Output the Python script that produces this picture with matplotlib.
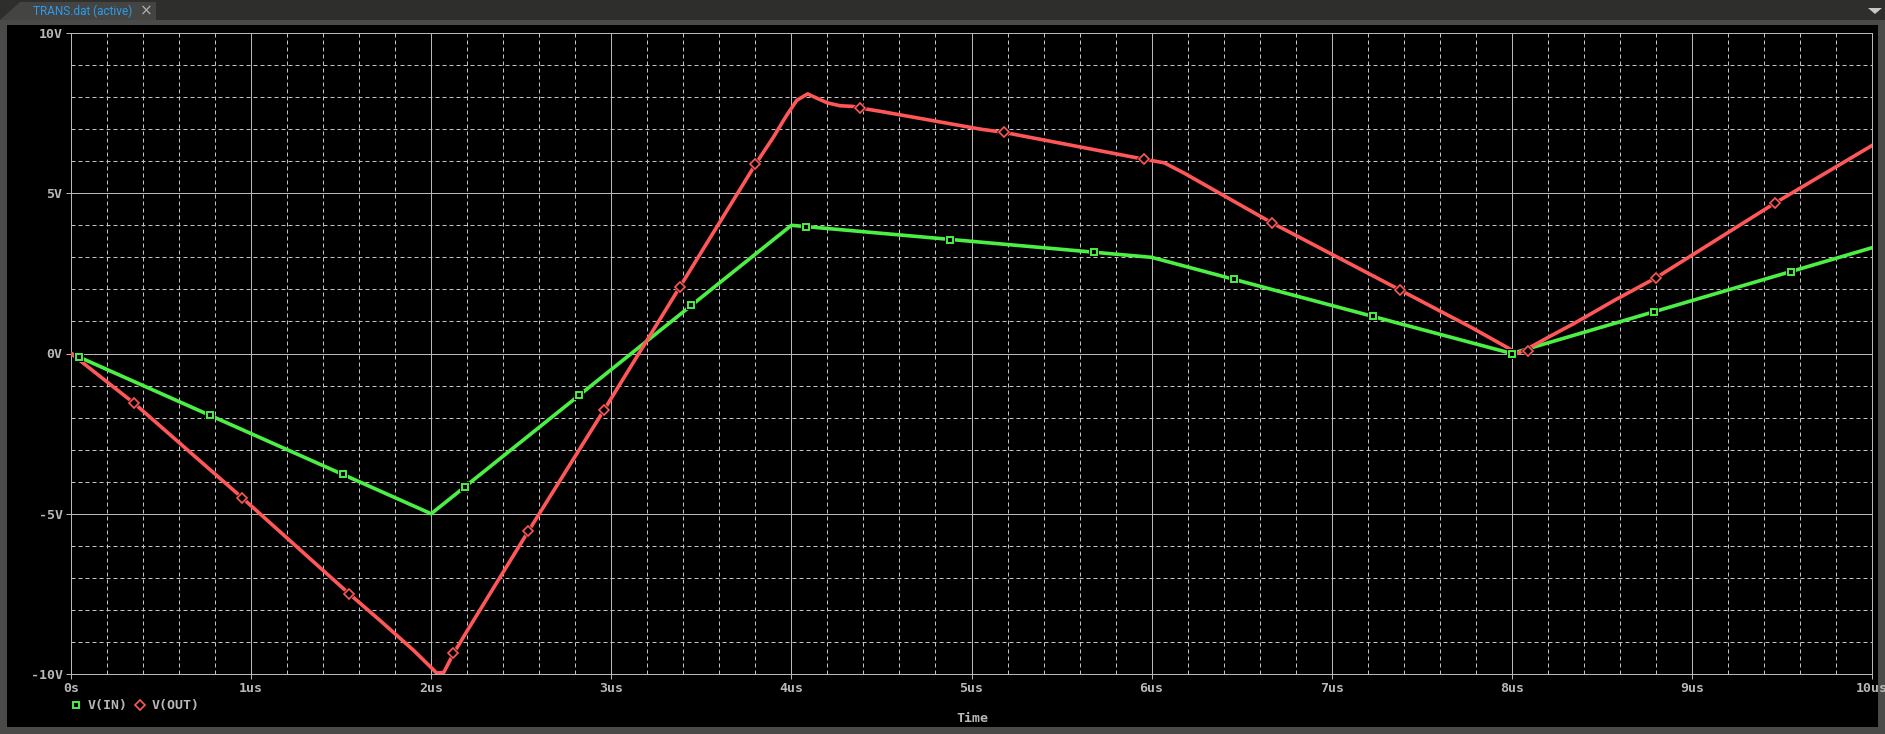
import matplotlib.pyplot as plt
import numpy as np
from matplotlib.patches import Rectangle, Polygon
from matplotlib.lines import Line2D

# Datos (tiempo en us, tension en V)
vin_t = [0, 2, 4, 6, 8, 10]
vin_v = [0, -5, 4, 3, 0, 3.3]

vin_mark_t = [0.045, 0.77, 1.51, 2.19, 2.82, 3.44, 4.08, 4.88, 5.68, 6.46, 7.23, 8.0, 8.79, 9.55]
vin_mark_v = [-0.1, -1.92, -3.76, -4.15, -1.31, 1.5, 3.96, 3.55, 3.16, 2.31, 1.16, 0.0, 1.3, 2.55]

vout_t = [0, 0.35, 0.95, 1.545, 1.72, 1.9, 2.0, 2.03, 2.07, 2.12, 2.2, 2.54, 2.96, 3.38,
          3.8, 3.9, 3.97, 4.03, 4.09, 4.14, 4.2, 4.27, 4.34, 4.38, 4.5, 5.05, 5.18, 5.96,
          6.07, 6.18, 6.67, 7.38, 7.61, 7.77, 7.98, 8.03, 8.12, 8.22, 8.34, 8.44, 8.57,
          8.8, 9.46, 10]
vout_v = [0, -1.55, -4.5, -7.5, -8.35, -9.25, -9.8, -9.97, -9.95, -9.4, -8.65, -5.54, -1.76, 2.07,
          5.9, 6.75, 7.4, 7.9, 8.1, 7.97, 7.82, 7.73, 7.71, 7.66, 7.55, 7.0, 6.9, 6.06,
          5.95, 5.63, 4.07, 1.98, 1.3, 0.83, 0.17, 0.0, 0.25, 0.56, 0.92, 1.24, 1.66,
          2.36, 4.69, 6.49]

vout_mark_t = [0.35, 0.95, 1.545, 2.12, 2.54, 2.96, 3.38, 3.8, 4.38, 5.18, 5.96, 6.67, 7.38, 8.09, 8.8, 9.46]
vout_mark_v = [-1.55, -4.5, -7.5, -9.35, -5.54, -1.76, 2.07, 5.9, 7.66, 6.9, 6.06, 4.07, 1.98, 0.07, 2.36, 4.69]

x_ticks = list(range(11))
x_labels = ['0s'] + [f'{i}us' for i in range(1, 11)]
y_ticks = [-10, -5, 0, 5, 10]
y_labels = ['-10V', '-5V', '0V', '5V', '10V']

W, H = 1885, 734
verde = '#4cf044'
rojo = '#ff5757'
gris = '#b8b8b8'
fuente = 'DejaVu Sans Mono'


def fx(px):
    return px / W


def fy(py):
    return 1 - py / H


fig = plt.figure(figsize=(W / 100, H / 100), dpi=100, facecolor='#4a4b49')

# Barra superior y pestaña
fig.add_artist(Rectangle((0, fy(20)), 1, 1 - fy(20), transform=fig.transFigure,
                         facecolor='#2e2f2d', edgecolor='none', zorder=-10))
fig.add_artist(Polygon([(fx(0), fy(20)), (fx(20), fy(2)), (fx(156), fy(2)), (fx(156), fy(20))],
                       closed=True, transform=fig.transFigure, facecolor='#444543',
                       edgecolor='none', zorder=-9))
fig.text(fx(33), fy(11), 'TRANS.dat (active)', color='#2b9cec', fontsize=8.5,
         family='Roboto', va='center', ha='left')
fig.text(fx(146), fy(11), '\u00d7', color='#b0b0b0', fontsize=11, va='center', ha='center')
fig.add_artist(Polygon([(fx(1868), fy(8)), (fx(1882), fy(8)), (fx(1875), fy(14))], closed=True,
                       transform=fig.transFigure, facecolor='#c8c8c8', edgecolor='none'))

# Zona negra de la ventana
fig.add_artist(Rectangle((fx(7), fy(727)), fx(1878) - fx(7), fy(25) - fy(727),
                         transform=fig.transFigure, facecolor='black', edgecolor='none',
                         zorder=-8))

ax = fig.add_axes([fx(71), fy(674), fx(1872) - fx(71), fy(33) - fy(674)])
ax.set_facecolor('black')
ax.set_xlim(0, 10)
ax.set_ylim(-10, 10)

ax.set_xticks(x_ticks)
ax.set_xticklabels(x_labels)
ax.set_yticks(y_ticks)
ax.set_yticklabels(y_labels)
ax.set_xticks(np.arange(0, 10.01, 0.2), minor=True)
ax.set_yticks(np.arange(-10, 10.01, 1), minor=True)

ax.tick_params(which='major', length=3.6, width=0.72, color=gris, labelcolor=gris,
               labelsize=9.5, pad=2.5)
ax.tick_params(which='minor', length=0)
for lab in ax.get_xticklabels() + ax.get_yticklabels():
    lab.set_family(fuente)
    lab.set_fontweight('bold')

ax.grid(which='minor', color='#c4c4c4', lw=0.72, ls=(0, (4, 3)))
ax.grid(which='major', color=gris, lw=0.72, ls='-')
ax.set_axisbelow(True)
for s in ax.spines.values():
    s.set_color(gris)
    s.set_linewidth(0.72)

# Curvas
ax.plot(vin_t, vin_v, color=verde, lw=2.6, zorder=3)
ax.plot(vout_t, vout_v, color=rojo, lw=2.6, zorder=3)

# Marcadores (con hueco negro alrededor)
ax.plot(vin_mark_t, vin_mark_v, ls='none', marker='s', ms=7.5, mfc='black', mec='black', mew=0, zorder=4)
ax.plot(vin_mark_t, vin_mark_v, ls='none', marker='s', ms=4.6, mfc='black', mec=verde, mew=1.4, zorder=5)
ax.plot(vout_mark_t, vout_mark_v, ls='none', marker='D', ms=7.5, mfc='black', mec='black', mew=0, zorder=4)
ax.plot(vout_mark_t, vout_mark_v, ls='none', marker='D', ms=4.6, mfc='black', mec=rojo, mew=1.2, zorder=5)

# Leyenda y titulo del eje
fig.add_artist(Line2D([fx(76)], [fy(705)], transform=fig.transFigure, marker='s', ms=4.6,
                      mfc='black', mec=verde, mew=1.4, ls='none'))
fig.text(fx(88), fy(705), 'V(IN)', color=gris, fontsize=9.5, family=fuente, fontweight='bold',
         va='center', ha='left')
fig.add_artist(Line2D([fx(140)], [fy(705)], transform=fig.transFigure, marker='D', ms=4.6,
                      mfc='black', mec=rojo, mew=1.2, ls='none'))
fig.text(fx(152), fy(705), 'V(OUT)', color=gris, fontsize=9.5, family=fuente, fontweight='bold',
         va='center', ha='left')
fig.text(fx(972), fy(719), 'Time', color=gris, fontsize=9.5, family=fuente, fontweight='bold',
         va='center', ha='center')

fig.savefig('out.png', dpi=100, facecolor=fig.get_facecolor())
